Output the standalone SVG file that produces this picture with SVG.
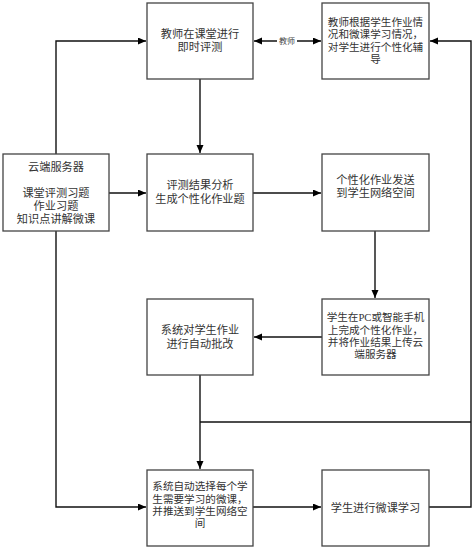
<svg xmlns="http://www.w3.org/2000/svg" width="474" height="549" viewBox="0 0 474 549">
<defs>
<marker id="ah" markerUnits="userSpaceOnUse" markerWidth="9" markerHeight="8" refX="8" refY="3.5" orient="auto-start-reverse">
<path d="M0,0 L8,3.5 L0,7 z" fill="#000"/>
</marker>
<style>
.box{fill:#fff;stroke:#444;stroke-width:1.3}
.t{font-family:"Liberation Serif","Noto Sans CJK SC",serif;font-size:11.2px;fill:#333;text-anchor:middle}
.s{font-size:10.6px}
.lbl{font-family:"Liberation Serif","Noto Sans CJK SC",serif;font-size:8px;fill:#444;text-anchor:middle}
.c{fill:none;stroke:#111;stroke-width:1.4}
</style>
</defs>
<rect width="474" height="549" fill="#fff"/>
<g id="connectors">
<path class="c" d="M56,154 V41 H146" marker-end="url(#ah)"/>
<path class="c" d="M200,79 V153" marker-end="url(#ah)"/>
<path class="c" d="M109,193 H146" marker-end="url(#ah)"/>
<path class="c" d="M253,193 H321" marker-end="url(#ah)"/>
<path class="c" d="M254,41 H321" marker-start="url(#ah)" marker-end="url(#ah)"/>
<rect x="277" y="35" width="20" height="11" fill="#fff"/>
<text class="lbl" x="287" y="43.5">教师</text>
<path class="c" d="M375,231 V298" marker-end="url(#ah)"/>
<path class="c" d="M322,337 H254" marker-end="url(#ah)"/>
<path class="c" d="M200,375 V469" marker-end="url(#ah)"/>
<path class="c" d="M429,507 H471 V41 H430" marker-end="url(#ah)"/>
<path class="c" d="M471,422 H200"/>
<path class="c" d="M56,231 V507 H146" marker-end="url(#ah)"/>
<path class="c" d="M253,507 H321" marker-end="url(#ah)"/>
</g>
<g id="cloud">
<rect class="box" x="3" y="154" width="106" height="77"/>
<text class="t" x="56" y="171">云端服务器</text>
<text class="t" x="56" y="197">课堂评测习题</text>
<text class="t" x="56" y="210">作业习题</text>
<text class="t" x="56" y="223">知识点讲解微课</text>
</g>
<g id="n1">
<rect class="box" x="147" y="3" width="106" height="76"/>
<text class="t" x="200" y="37.5">教师在课堂进行</text>
<text class="t" x="200" y="51">即时评测</text>
</g>
<g id="n2">
<rect class="box" x="322" y="3" width="107" height="76"/>
<text class="t s" x="375.5" y="26">教师根据学生作业情</text>
<text class="t s" x="375.5" y="38.3">况和微课学习情况，</text>
<text class="t s" x="375.5" y="50.6">对学生进行个性化辅</text>
<text class="t s" x="375.5" y="62.9">导</text>
</g>
<g id="n3">
<rect class="box" x="147" y="154" width="106" height="77"/>
<text class="t" x="200" y="189">评测结果分析</text>
<text class="t" x="200" y="203">生成个性化作业题</text>
</g>
<g id="n4">
<rect class="box" x="322" y="154" width="107" height="77"/>
<text class="t" x="375.5" y="184">个性化作业发送</text>
<text class="t" x="375.5" y="197">到学生网络空间</text>
</g>
<g id="n5">
<rect class="box" x="147" y="299" width="106" height="76"/>
<text class="t" x="200" y="334">系统对学生作业</text>
<text class="t" x="200" y="347.5">进行自动批改</text>
</g>
<g id="n6">
<rect class="box" x="322" y="299" width="107" height="76"/>
<text class="t s" x="375.5" y="321.3">学生在PC或智能手机</text>
<text class="t s" x="375.5" y="333.6">上完成个性化作业，</text>
<text class="t s" x="375.5" y="345.9">并将作业结果上传云</text>
<text class="t s" x="375.5" y="358.2">端服务器</text>
</g>
<g id="n7">
<rect class="box" x="147" y="470" width="106" height="76"/>
<text class="t s" x="200" y="490.3">系统自动选择每个学</text>
<text class="t s" x="200" y="502.6">生需要学习的微课，</text>
<text class="t s" x="200" y="514.9">并推送到学生网络空</text>
<text class="t s" x="200" y="527.2">间</text>
</g>
<g id="n8">
<rect class="box" x="322" y="470" width="107" height="76"/>
<text class="t" x="375.5" y="511.5">学生进行微课学习</text>
</g>
</svg>
